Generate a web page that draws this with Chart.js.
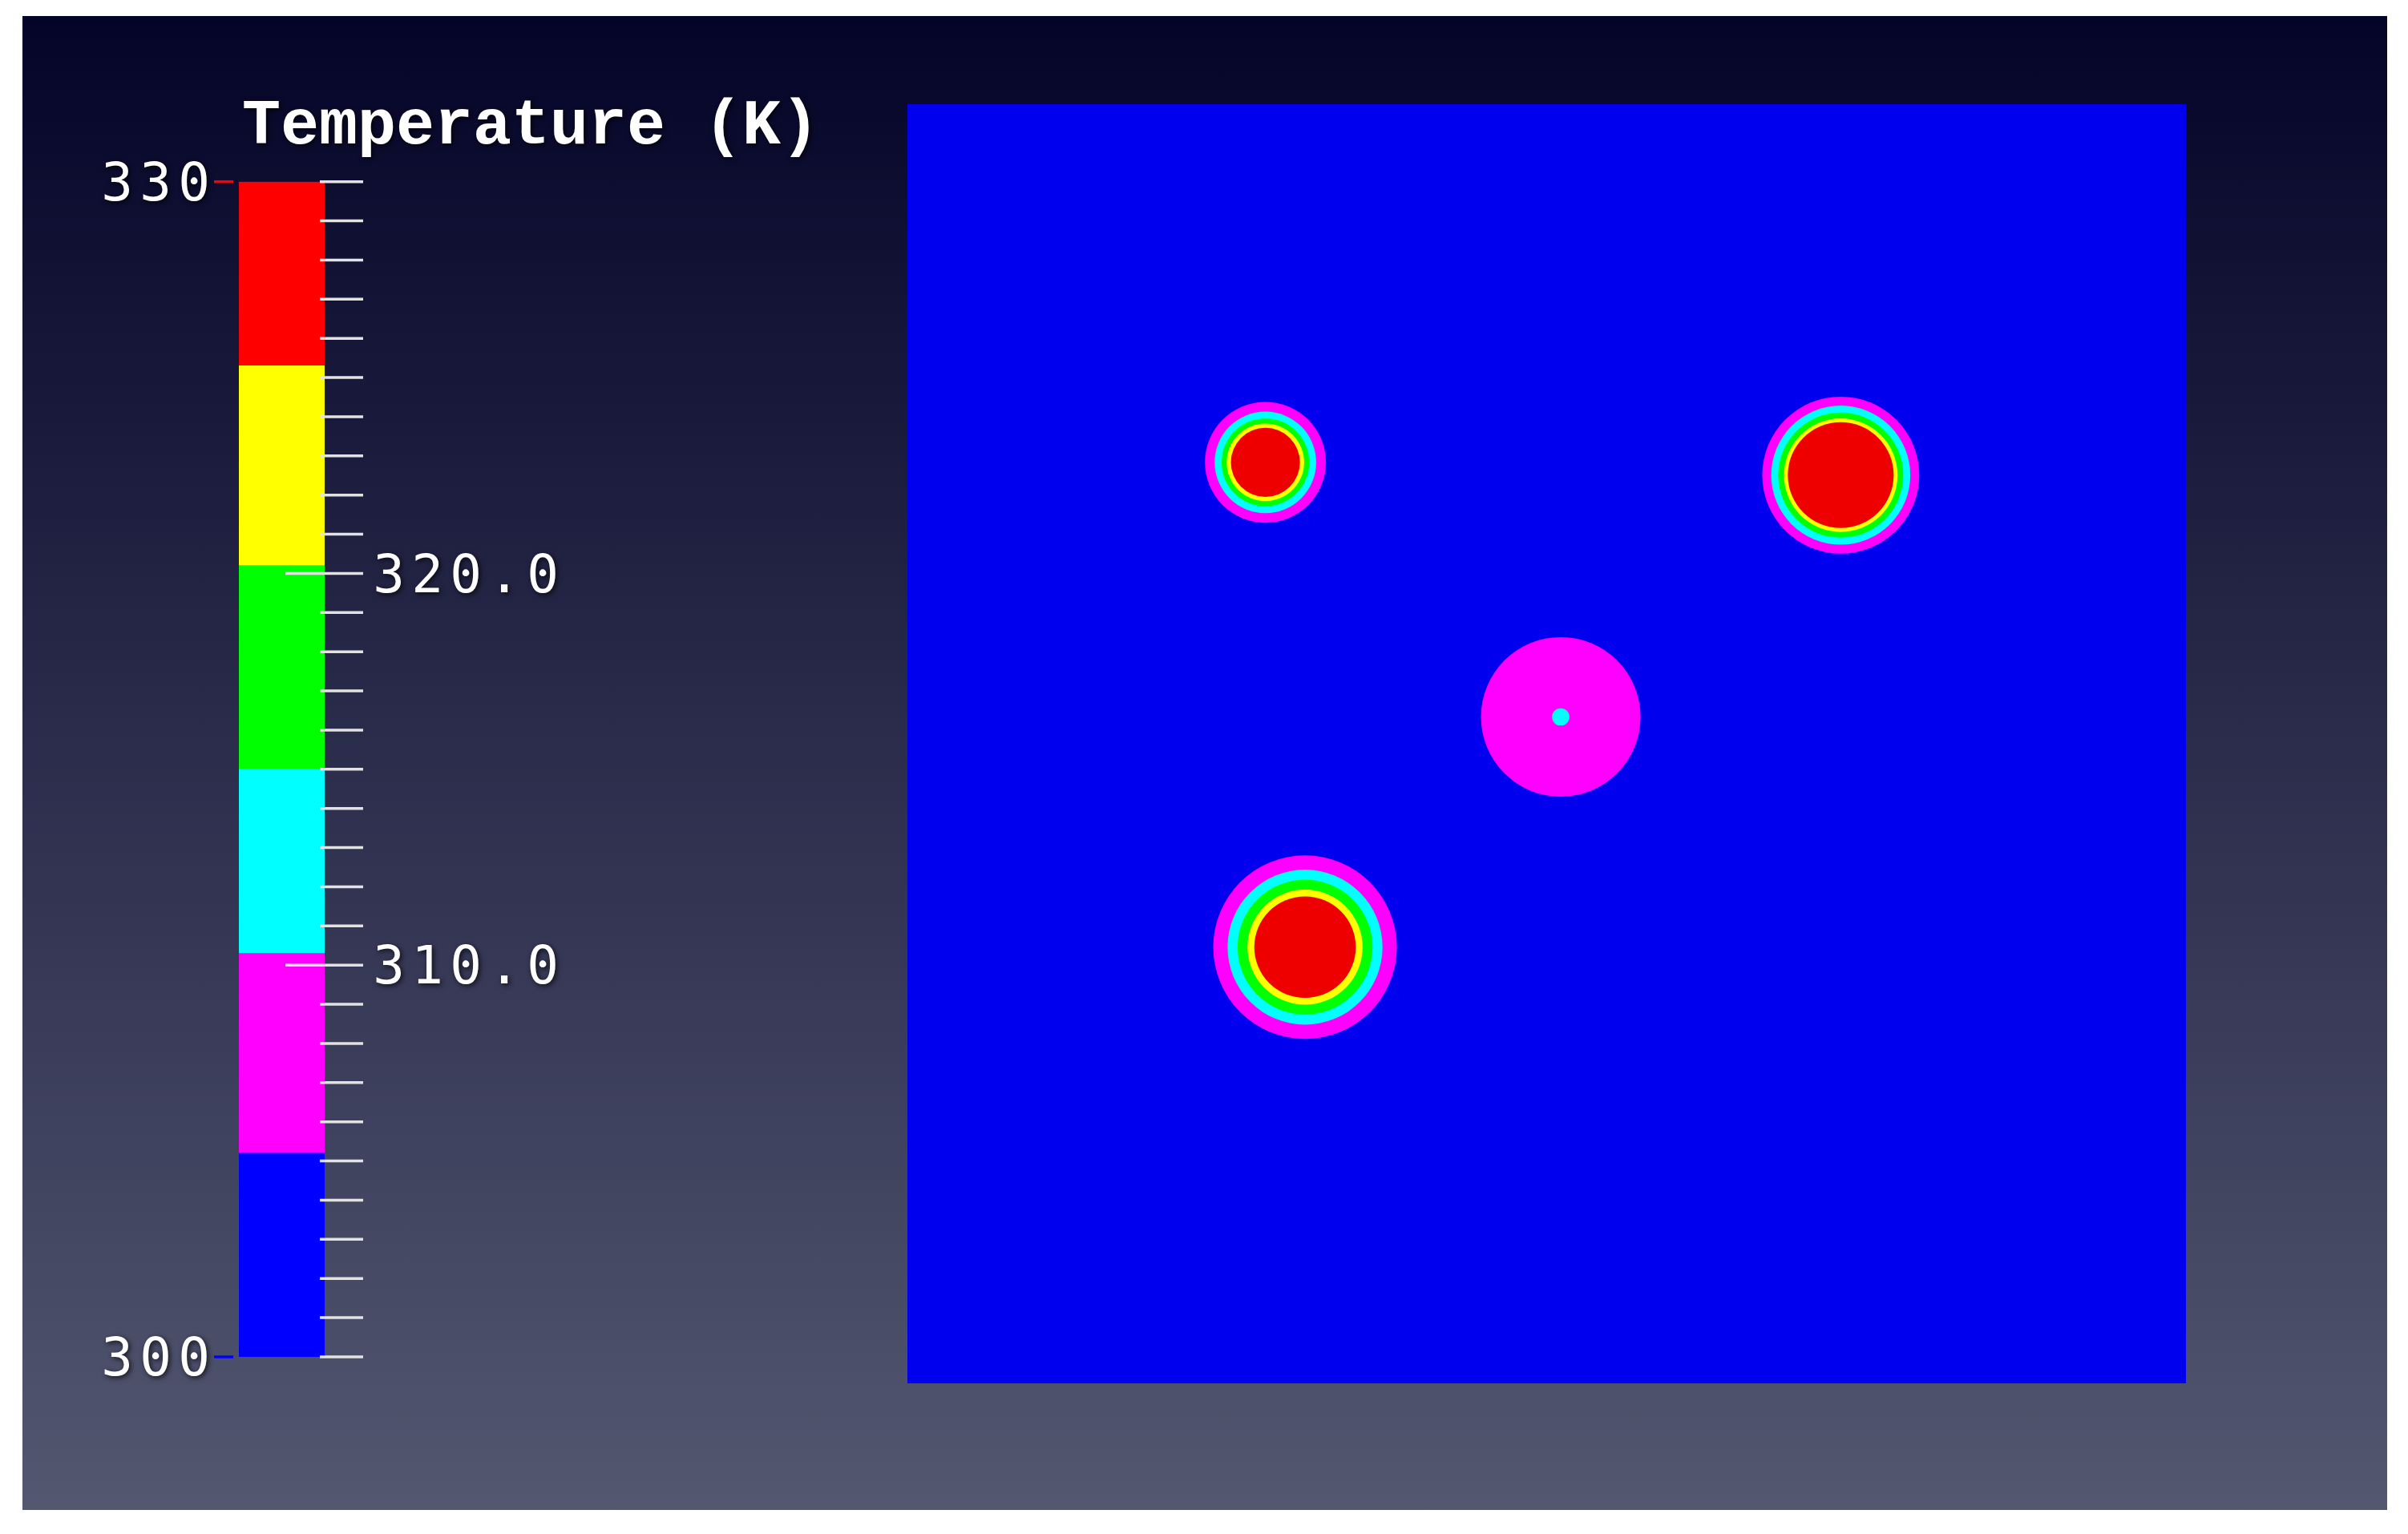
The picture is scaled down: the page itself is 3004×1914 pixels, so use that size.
<!DOCTYPE html>
<html lang="en">
<head>
    <meta charset="UTF-8">
    <title>Temperature (K)</title>
    <script src="https://cdn.jsdelivr.net/npm/chart.js"></script>
    <style>
        body {
            margin: 0;
            background: #ffffff;
            width: 3004px;
            height: 1914px;
            overflow: hidden;
        }

        /* dark render-window backdrop */
        .panel {
            position: absolute;
            left: 28px;
            top: 20px;
            width: 2950px;
            height: 1864px;
            background: linear-gradient(to bottom, #040428 0%, #535770 100%);
        }

        .box {
            position: absolute;
        }

        #legend-box {
            left: 100px;
            top: 100px;
            width: 1000px;
            height: 1700px;
        }

        #field-box {
            left: 1132px;
            top: 130px;
            width: 1595px;
            height: 1596px;
        }
    </style>
</head>
<body>
    <div class="panel"></div>
    <div class="box" id="legend-box"><canvas id="legend"></canvas></div>
    <div class="box" id="field-box"><canvas id="field"></canvas></div>

    <script>
        // Colour bands of the discrete temperature map (K)
        const bandLow    = [300, 305.2, 310.3, 315.0, 320.2, 325.3];
        const bandHigh   = [305.2, 310.3, 315.0, 320.2, 325.3, 330];
        const bandColors = ['#0000ff', '#ff00ff', '#00ffff', '#00ff00', '#ffff00', '#ff0000'];

        // Colour bar tick labels
        const tickValues = [330, 320, 310, 300];
        const tickLabels = ['330', '320.0', '310.0', '300'];
        const minorStep = 1;

        // Hot spots in the domain (unit square), radius of each isotherm band
        const spotX    = [0.280, 0.730, 0.511, 0.311];
        const spotY    = [0.720, 0.710, 0.521, 0.341];
        const rMagenta = [0.0473, 0.0614, 0.0624, 0.0718];
        const rCyan    = [0.0397, 0.0544, 0.0068, 0.0606];
        const rGreen   = [0.0343, 0.0489, null,   0.0528];
        const rYellow  = [0.0303, 0.0444, null,   0.0450];
        const rRed     = [0.0270, 0.0414, null,   0.0397];

        const fieldColor = '#0000ee';
        const ringColors = ['#ff00ff', '#00ffff', '#00ff00', '#ffff00', '#ee0000'];
        const ringRadii = [rMagenta, rCyan, rGreen, rYellow, rRed];

        // ---------- colour bar ----------
        const legendTicks = {
            id: 'legendTicks',
            afterDraw(chart) {
                const ctx = chart.ctx;
                const y = chart.scales.y;
                const area = chart.chartArea;
                const right = area.right;
                ctx.save();

                // minor ticks every kelvin on the right side
                ctx.strokeStyle = '#e2e2e2';
                ctx.lineWidth = 3.5;
                for (let v = 300; v <= 330; v += minorStep) {
                    const py = y.getPixelForValue(v);
                    const major = v === 320 || v === 310;
                    ctx.beginPath();
                    ctx.moveTo(major ? right - 49 : right - 6, py);
                    ctx.lineTo(right + 48, py);
                    ctx.stroke();
                }

                // end ticks on the left, coloured like the ends of the map
                [[330, '#ff0000'], [300, '#0000ff']].forEach(([v, c]) => {
                    const py = y.getPixelForValue(v);
                    ctx.strokeStyle = c;
                    ctx.beginPath();
                    ctx.moveTo(area.left - 31, py);
                    ctx.lineTo(area.left - 7, py);
                    ctx.stroke();
                });

                // labels
                ctx.fillStyle = '#ffffff';
                ctx.shadowColor = 'rgba(0, 0, 0, 0.75)';
                ctx.shadowBlur = 6;
                ctx.shadowOffsetX = 2;
                ctx.shadowOffsetY = 2;
                ctx.font = '66px "DejaVu Sans Mono"';
                ctx.textAlign = 'center';
                ctx.textBaseline = 'middle';
                const adv = 48;
                tickValues.forEach((v, i) => {
                    const text = tickLabels[i];
                    const py = y.getPixelForValue(v) + 6;
                    const endLabel = v === 330 || v === 300;
                    // ends sit left of the bar, inner labels right of it
                    let cx = endLabel ? area.left - 56 - (text.length - 1) * adv : right + 80;
                    for (const ch of text) {
                        ctx.fillText(ch, cx, py);
                        cx += adv;
                    }
                });

                // title
                ctx.font = 'bold 80px "Liberation Mono"';
                ctx.textAlign = 'left';
                ctx.textBaseline = 'alphabetic';
                ctx.fillText('Temperature (K)', area.left + 4, y.getPixelForValue(330) - 48);
                ctx.restore();
            }
        };

        new Chart(document.getElementById('legend'), {
            type: 'bar',
            data: {
                labels: ['T'],
                datasets: bandLow.map((lo, i) => ({
                    label: lo + '-' + bandHigh[i],
                    data: [[lo, bandHigh[i]]],
                    backgroundColor: bandColors[i],
                    borderWidth: 0,
                    barPercentage: 1,
                    categoryPercentage: 1
                }))
            },
            options: {
                responsive: true,
                maintainAspectRatio: false,
                animation: false,
                events: [],
                layout: {
                    padding: { left: 198, right: 695, top: 126.7, bottom: 107 }
                },
                plugins: {
                    legend: { display: false },
                    tooltip: { enabled: false }
                },
                scales: {
                    x: { display: false, stacked: true },
                    y: { display: false, min: 300, max: 330 }
                }
            },
            plugins: [legendTicks]
        });

        // ---------- temperature field ----------
        const rings = {
            id: 'rings',
            beforeDatasetsDraw(chart) {
                const ctx = chart.ctx;
                const xs = chart.scales.x;
                const ys = chart.scales.y;
                const area = chart.chartArea;
                ctx.save();
                ctx.fillStyle = fieldColor;
                ctx.fillRect(area.left, area.top, area.width, area.height);

                // outermost band first so inner bands land on top
                ringRadii.forEach((radii, b) => {
                    ctx.fillStyle = ringColors[b];
                    spotX.forEach((sx, i) => {
                        const r = radii[i];
                        if (r == null) return;
                        const px = xs.getPixelForValue(sx);
                        const py = ys.getPixelForValue(spotY[i]);
                        const rp = xs.getPixelForValue(sx + r) - px;
                        ctx.beginPath();
                        ctx.arc(px, py, rp, 0, Math.PI * 2);
                        ctx.fill();
                    });
                });
                ctx.restore();
            }
        };

        new Chart(document.getElementById('field'), {
            type: 'scatter',
            data: { datasets: [] },
            options: {
                responsive: true,
                maintainAspectRatio: false,
                animation: false,
                events: [],
                layout: { padding: 0 },
                plugins: {
                    legend: { display: false },
                    tooltip: { enabled: false }
                },
                scales: {
                    x: { type: 'linear', display: false, min: 0, max: 1 },
                    y: { type: 'linear', display: false, min: 0, max: 1 }
                }
            },
            plugins: [rings]
        });
    </script>
</body>
</html>
